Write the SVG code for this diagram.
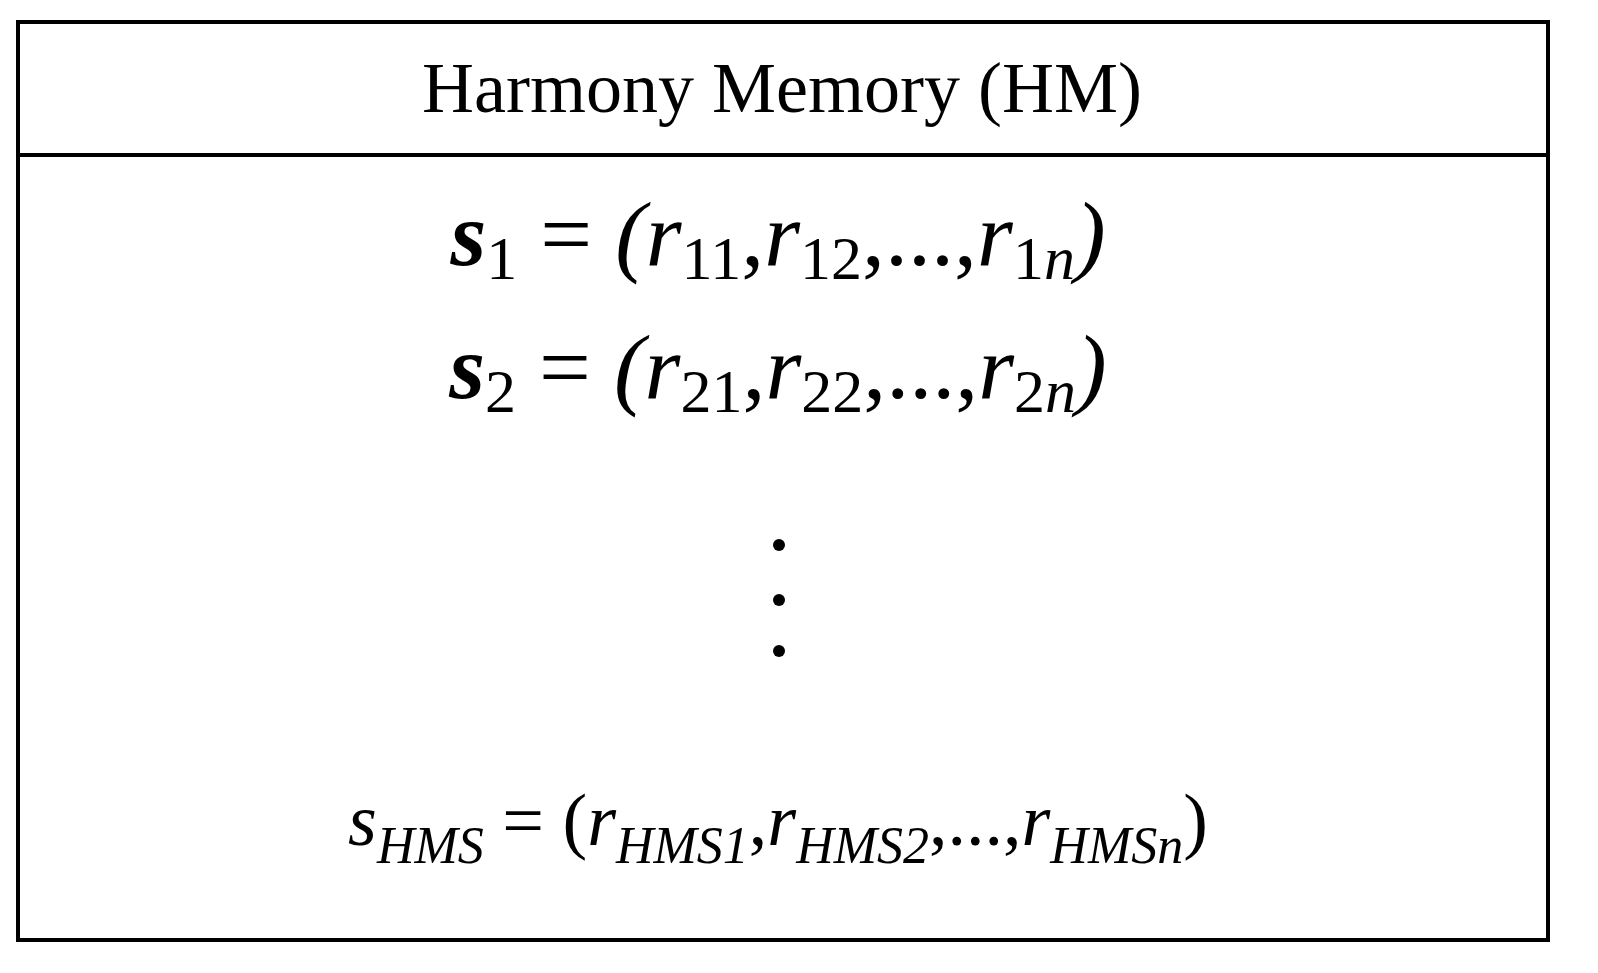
<svg xmlns="http://www.w3.org/2000/svg" width="1598" height="973" viewBox="0 0 1598 973">
<style>
.t{font-family:"Liberation Serif","DejaVu Serif",serif;fill:#000}
.m{font-family:"Liberation Serif","DejaVu Serif",serif;font-size:92px;fill:#000}
.h{font-family:"Liberation Serif","DejaVu Serif",serif;font-size:74px;fill:#000}
.i{font-style:italic}
.b{font-weight:bold}
.s{font-size:62px}
.s2{font-size:52px}
</style>
<rect width="1598" height="973" fill="#fff"/>
<g id="hm">
<rect x="18" y="22" width="1530" height="918" fill="none" stroke="#000" stroke-width="4"/>
<line x1="18" y1="155" x2="1548" y2="155" stroke="#000" stroke-width="4"/>
<text class="t" x="782" y="112" font-size="72" text-anchor="middle">Harmony Memory (HM)</text>
</g>
<g id="s1">
<text class="m" x="778" y="265" text-anchor="middle"><tspan class="i b">s</tspan><tspan class="s" dy="14">1</tspan><tspan dy="-14"> = </tspan><tspan class="i">(r</tspan><tspan class="s" dy="14">11</tspan><tspan dy="-14">,</tspan><tspan class="i">r</tspan><tspan class="s" dy="14">12</tspan><tspan dy="-14">,...,</tspan><tspan class="i">r</tspan><tspan class="s" dy="14">1<tspan class="i">n</tspan></tspan><tspan class="i" dy="-14">)</tspan></text>
</g>
<g id="s2">
<text class="m" x="778" y="398" text-anchor="middle"><tspan class="i b">s</tspan><tspan class="s" dy="14">2</tspan><tspan dy="-14"> = </tspan><tspan class="i">(r</tspan><tspan class="s" dy="14">21</tspan><tspan dy="-14">,</tspan><tspan class="i">r</tspan><tspan class="s" dy="14">22</tspan><tspan dy="-14">,...,</tspan><tspan class="i">r</tspan><tspan class="s" dy="14">2<tspan class="i">n</tspan></tspan><tspan class="i" dy="-14">)</tspan></text>
</g>
<g id="dots">
<circle cx="779" cy="545" r="6"/>
<circle cx="779" cy="600" r="6"/>
<circle cx="779" cy="651" r="6"/>
</g>
<g id="shms">
<text class="h" x="778" y="845" text-anchor="middle"><tspan class="i">s</tspan><tspan class="s2 i" dy="18">HMS</tspan><tspan dy="-18"> = (</tspan><tspan class="i">r</tspan><tspan class="s2 i" dy="18">HMS1</tspan><tspan dy="-18">,</tspan><tspan class="i">r</tspan><tspan class="s2 i" dy="18">HMS2</tspan><tspan dy="-18">,...,</tspan><tspan class="i">r</tspan><tspan class="s2 i" dy="18">HMSn</tspan><tspan dy="-18">)</tspan></text>
</g>
</svg>
